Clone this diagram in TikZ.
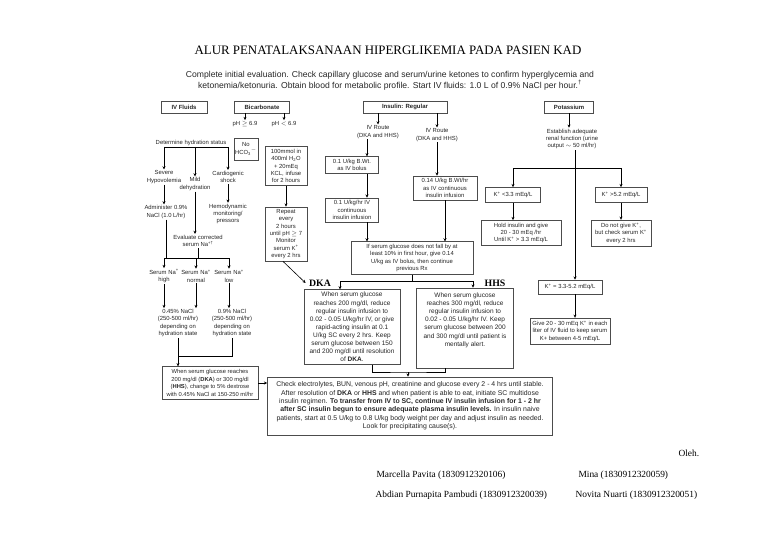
\documentclass[tikz,border=0pt]{standalone}
\usepackage{fontspec}
\setmainfont{Liberation Serif}
\setsansfont{Liberation Sans}
\usetikzlibrary{arrows.meta}

\tikzset{
  lbl/.style={font=\sffamily\fontsize{5.9}{7.3}\selectfont, align=center, inner sep=1pt, text=black!85},
  bx/.style={lbl, draw=black!70, line width=0.7pt, inner sep=2.5pt},
  hdr/.style={bx, font=\sffamily\bfseries\fontsize{6}{7}\selectfont, minimum height=12pt, inner sep=1pt},
  arr/.style={-{Stealth[length=3.2pt,width=3pt]}, line width=0.6pt},
  ln/.style={line width=0.6pt}
}

\begin{document}
\begin{tikzpicture}[x=1pt,y=-1pt]
\useasboundingbox (0,0) rectangle (768,543);

\node[font=\fontsize{12.9}{14}\selectfont] (title) at (388,50) {ALUR PENATALAKSANAAN HIPERGLIKEMIA PADA PASIEN KAD};
\node[font=\sffamily\fontsize{8.6}{11}\selectfont, align=center, text=black!85] (intro) at (390,80.5)
  {Complete initial evaluation. Check capillary glucose and serum/urine ketones to confirm hyperglycemia and\\
   ketonemia/ketonuria. Obtain blood for metabolic profile. Start IV fluids: 1.0 L of 0.9\% NaCl per hour.\textsuperscript{\dag}};

% kepala kolom
\node[hdr, minimum width=46pt] (ivf) at (184,107) {IV Fluids};
\node[hdr, minimum width=55pt] (bic) at (262,107) {Bicarbonate};
\node[hdr, minimum width=84pt] (ins) at (405,107) {Insulin: Regular};
\node[hdr, minimum width=49pt] (pot) at (569,107) {Potassium};

% IV fluids
\node[lbl] (hyd) at (191,143) {Determine hydration status};
\node[lbl] (sev) at (164,177) {Severe\\Hypovolemia};
\node[lbl] (mild) at (195,184) {Mild\\dehydration};
\node[lbl] (card) at (228,177) {Cardiogenic\\shock};
\node[lbl] (adm) at (166,212) {Administer 0.9\%\\NaCl (1.0 L/hr)};
\node[lbl] (hemo) at (228,214) {Hemodynamic\\monitoring/\\pressors};
\node[lbl] (eval) at (198,241) {Evaluate corrected\\serum Na\textsuperscript{+\dag}};
\node[lbl] (hi) at (164,276) {Serum Na\textsuperscript{+}\\high};
\node[lbl] (norm) at (196,276) {Serum Na\textsuperscript{+}\\normal};
\node[lbl] (low) at (229,276) {Serum Na\textsuperscript{+}\\low};
\node[lbl] (half) at (178,323) {0.45\% NaCl\\(250-500 ml/hr)\\depending on\\hydration state};
\node[lbl] (full) at (232,323) {0.9\% NaCl\\(250-500 ml/hr)\\depending on\\hydration state};
\node[bx, font=\sffamily\fontsize{5.8}{7.8}\selectfont, minimum width=96pt] (gluc) at (210,383)
  {When serum glucose reaches\\200 mg/dl (\textbf{DKA}) or 300 mg/dl\\(\textbf{HHS}), change to 5\% dextrose\\with 0.45\% NaCl at 150-250 ml/hr};
\coordinate (nab) at (196,258);
\coordinate (jn) at (178,356);

\draw[ln] (hyd.south -| sev) -- (hyd.south -| card);
\foreach \n in {sev,mild,card}{
  \draw[arr] (hyd.south -| \n) -- (\n);
}
\draw[arr] (sev) -- (sev |- adm.north);
\draw[arr, line width=0.4pt] (card) -- (card |- hemo.north);
\draw[arr] (mild) -- (mild |- eval.north);
\draw[ln] (adm) -- (adm |- nab);
\draw[ln] (eval) -- (eval |- nab);
\draw[ln] (hi |- nab) -- (low |- nab);
\foreach \n in {hi,norm,low}{
  \draw[arr] (nab -| \n) -- (\n);
}
\draw[arr] (hi) -- (hi |- half.north);
\draw[arr] (norm) -- (norm |- half.north);
\draw[arr] (low) -- (low |- full.north);
\draw[ln] (full) |- (jn);
\draw[arr] (half) -- (half |- gluc.north);

% bicarbonate
\node[lbl] (ph1) at (245,124) {pH $\geq$ 6.9};
\node[lbl] (ph2) at (284,124) {pH $<$ 6.9};
\node[bx, minimum width=21pt, minimum height=22pt, inner sep=1pt] (nohco) at (246,149) {No\\HCO\textsubscript{3}\textsuperscript{$-$}};
\node[bx, minimum width=42pt] (mmol) at (286,166) {100mmol in\\400ml H\textsubscript{2}O\\+ 20mEq\\KCL, infuse\\for 2 hours};
\node[bx, minimum width=42pt] (rep) at (286,234) {Repeat\\every\\2 hours\\until pH $\geq$ 7\\Monitor\\serum K\textsuperscript{+}\\every 2 hrs};
\node[font=\bfseries\fontsize{9.8}{10}\selectfont] (dkal) at (320,283) {DKA};
\draw[arr] (bic.south -| ph1) -- (ph1);
\draw[arr] (bic.south -| ph2) -- (ph2);
\draw[arr] (mmol) -- (rep);
\draw[arr] ([xshift=-3pt]rep.south) -- (dkal.west);

% insulin
\node[lbl] (rt1) at (378,132) {IV Route\\(DKA and HHS)};
\node[lbl] (rt2) at (437,135) {IV Route\\(DKA and HHS)};
\node[bx, minimum width=53pt] (bol) at (352,165) {0.1 U/kg B.Wt.\\as IV bolus};
\node[bx, minimum width=53pt] (cinf) at (352,210) {0.1 U/kg/hr IV\\continuous\\insulin infusion};
\node[bx, minimum width=64pt] (cinf2) at (445,188) {0.14 U/kg B.Wt/hr\\as IV continuous\\insulin infusion};
\node[bx, minimum width=122pt] (fall) at (412,258) {If serum glucose does not fall by at\\least 10\% in first hour, give 0.14\\U/kg as IV bolus, then continue\\previous Rx};
\coordinate (ivx) at (367,0);
\coordinate (fb) at (412,281);
\draw[arr] (ins.south -| rt1) -- (rt1);
\draw[arr] (ins.south -| rt2) -- (rt2);
\draw[arr] (rt1.south -| ivx) -- (bol.north -| ivx);
\draw[arr] (bol.south -| ivx) -- (cinf.north -| ivx);
\draw[arr] (cinf.south -| ivx) -- (fall.north -| ivx);
\draw[arr] (rt2) -- (rt2 |- cinf2.north);
\draw[arr, line width=0.4pt] (cinf2) -- (cinf2 |- fall.north);

\node[bx, font=\sffamily\fontsize{6.5}{8.1}\selectfont, minimum width=96pt] (dkab) at (352,327)
  {When serum glucose\\reaches 200 mg/dl, reduce\\regular insulin infusion to\\0.02 - 0.05 U/kg/hr IV, or give\\rapid-acting insulin at 0.1\\U/kg SC every 2 hrs. Keep\\serum glucose between 150\\and 200 mg/dl until resolution\\of \textbf{DKA}.};
\node[bx, minimum width=97pt, minimum height=80pt] (hhsb) at (465,328) {};
\node[lbl, font=\sffamily\fontsize{6.5}{8.1}\selectfont, anchor=north] (hhst) at ([yshift=-4pt]hhsb.north)
  {When serum glucose\\reaches 300 mg/dl, reduce\\regular insulin infusion to\\0.02 - 0.05 U/kg/hr IV. Keep\\serum glucose between 200\\and 300 mg/dl until patient is\\mentally alert.};
\node[font=\bfseries\fontsize{9.8}{10}\selectfont] (hhsl) at (495,283) {HHS};
\draw[ln] (fall) -- (fb);
\draw[arr] (fb) -| ([xshift=-12pt]dkab.north);
\draw[arr] (fb) -| ([xshift=8pt]hhsb.north);

\node[bx, font=\sffamily\fontsize{6.9}{8.4}\selectfont, minimum width=285pt, minimum height=58pt] (chk) at (410,406)
  {Check electrolytes, BUN, venous pH, creatinine and glucose every 2 - 4 hrs until stable.\\
   After resolution of \textbf{DKA} or \textbf{HHS} and when patient is able to eat, initiate SC multidose\\
   insulin regimen. \textbf{To transfer from IV to SC, continue IV insulin infusion for 1 - 2 hr}\\
   \textbf{after SC insulin begun to ensure adequate plasma insulin levels.} In insulin naive\\
   patients, start at 0.5 U/kg to 0.8 U/kg body weight per day and adjust insulin as needed.\\
   Look for precipitating cause(s).};
\coordinate (jb) at (408,372);
\draw[ln] ([xshift=20pt]dkab.south) |- (jb) -| ([xshift=-20pt]hhsb.south);
\draw[arr] (jb) -- (jb |- chk.north);
\draw[arr] (gluc) -- (gluc -| chk.west);

% potassium
\node[lbl] (ren) at (572,139) {Establish adequate\\renal function (urine\\output $\sim$ 50 ml/hr)};
\node[bx, minimum width=55pt, minimum height=15pt] (klo) at (513,195) {K\textsuperscript{+} <3.3 mEq/L};
\node[bx, minimum width=52pt, minimum height=15pt] (khi) at (621,195) {K\textsuperscript{+} >5.2 mEq/L};
\node[bx, minimum width=80pt] (hold) at (521,233) {Hold insulin and give\\20 - 30 mEq /hr\\Until K\textsuperscript{+} > 3.3 mEq/L};
\node[bx, minimum width=60pt] (nok) at (621,233) {Do not give K\textsuperscript{+},\\but check serum K\textsuperscript{+}\\every 2 hrs};
\node[bx, minimum width=64pt, minimum height=14pt] (kmid) at (570,287) {K\textsuperscript{+} = 3.3-5.2 mEq/L};
\node[bx, minimum width=78pt] (give) at (570,331) {Give 20 - 30 mEq K\textsuperscript{+} in each\\liter of IV fluid to keep serum\\K+ between 4-5 mEq/L};
\coordinate (kb) at (575,168);
\draw[arr] (pot) -- (pot |- ren.north);
\draw[ln] (ren.south -| kb) -- (kb);
\draw[ln] (klo |- kb) -- (khi |- kb);
\foreach \n in {klo,khi}{
  \draw[arr] (kb -| \n) -- (\n);
}
\draw[arr] (kb) -- (kb |- kmid.north);
\draw[arr] (klo) -- (klo |- hold.north);
\draw[arr] (khi) -- (khi |- nok.north);
\draw[arr] (kb |- kmid.south) -- (kb |- give.north);

% penyusun
\node[anchor=base west, font=\fontsize{9.4}{11}\selectfont] (oleh) at (675,456) {Oleh.};
\node[anchor=base west, font=\fontsize{9.4}{11}\selectfont] (nm1) at (373,477) {Marcella Pavita (1830912320106)};
\node[anchor=base west, font=\fontsize{9.4}{11}\selectfont] (nm2) at (575,477) {Mina (1830912320059)};
\node[anchor=base west, font=\fontsize{9.4}{11}\selectfont] (nm3) at (372,497) {Abdian Purnapita Pambudi (1830912320039)};
\node[anchor=base west, font=\fontsize{9.4}{11}\selectfont] (nm4) at (572,497) {Novita Nuarti (1830912320051)};
\end{tikzpicture}
\end{document}
